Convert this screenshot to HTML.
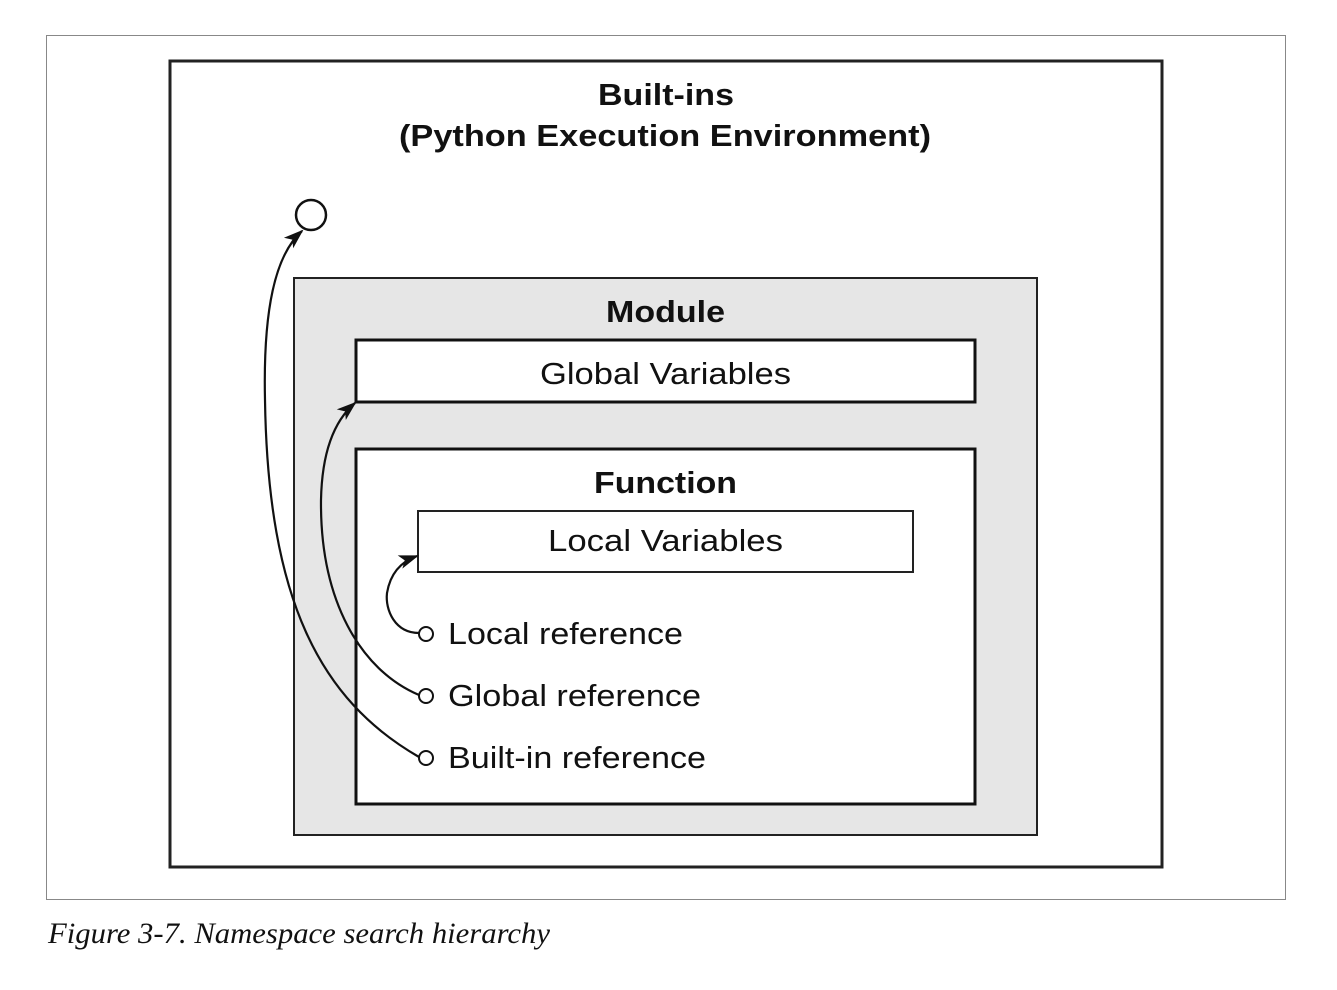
<!DOCTYPE html>
<html><head><meta charset="utf-8"><style>
html,body{margin:0;padding:0;background:#fff;}
svg{display:block;}
.b{font-family:"Liberation Sans",sans-serif;font-weight:bold;font-size:31px;fill:#111;}
.r{font-family:"Liberation Sans",sans-serif;font-size:31px;fill:#111;}
.c{font-family:"Liberation Serif",serif;font-style:italic;font-size:30px;fill:#111;}
</style></head><body>
<svg width="1337" height="990" viewBox="0 0 1337 990" xmlns="http://www.w3.org/2000/svg">
<defs>
<marker id="ah" viewBox="0 0 10 10" refX="9" refY="5" markerWidth="20" markerHeight="20" orient="auto" markerUnits="userSpaceOnUse">
<path d="M0,1.5 L10,5 L0,8.5 L2.5,5 z" fill="#111"/></marker>
</defs>
<rect x="46.5" y="35.5" width="1239" height="864" fill="#fff" stroke="#888" stroke-width="1"/>
<rect x="170" y="61" width="992" height="806" fill="#fff" stroke="#222" stroke-width="3"/>
<text class="b" x="598" y="105" textLength="136" lengthAdjust="spacingAndGlyphs">Built-ins</text>
<text class="b" x="399" y="146" textLength="532" lengthAdjust="spacingAndGlyphs">(Python Execution Environment)</text>
<rect x="294" y="278" width="743" height="557" fill="#e6e6e6" stroke="#222" stroke-width="2"/>
<text class="b" x="606" y="322" textLength="119" lengthAdjust="spacingAndGlyphs">Module</text>
<rect x="356" y="340" width="619" height="62" fill="#fff" stroke="#111" stroke-width="3"/>
<text class="r" x="540" y="384" textLength="251" lengthAdjust="spacingAndGlyphs">Global Variables</text>
<rect x="356" y="449" width="619" height="355" fill="#fff" stroke="#111" stroke-width="3"/>
<text class="b" x="594" y="493" textLength="143" lengthAdjust="spacingAndGlyphs">Function</text>
<rect x="418" y="511" width="495" height="61" fill="#fff" stroke="#222" stroke-width="2"/>
<text class="r" x="548" y="551" textLength="235" lengthAdjust="spacingAndGlyphs">Local Variables</text>
<circle cx="311" cy="215" r="15" fill="#fff" stroke="#111" stroke-width="2.5"/>
<g fill="none" stroke="#111" stroke-width="2.2">
<path d="M419,633 C395,633 385,610 387,593 C390,575 400,562 417,556" marker-end="url(#ah)"/>
<path d="M419,695 C360,670 320,600 321,500 C322,450 335,420 355,403" marker-end="url(#ah)"/>
<path d="M419,757 C320,700 268,600 265,400 C263,310 275,255 302,231" marker-end="url(#ah)"/>
</g>
<g fill="#fff" stroke="#111" stroke-width="2">
<circle cx="426" cy="634" r="7"/><circle cx="426" cy="696" r="7"/><circle cx="426" cy="758" r="7"/>
</g>
<text class="r" x="448" y="644" textLength="235" lengthAdjust="spacingAndGlyphs">Local reference</text>
<text class="r" x="448" y="706" textLength="253" lengthAdjust="spacingAndGlyphs">Global reference</text>
<text class="r" x="448" y="768" textLength="258" lengthAdjust="spacingAndGlyphs">Built-in reference</text>
<text class="c" x="48" y="943" textLength="502" lengthAdjust="spacingAndGlyphs">Figure 3-7. Namespace search hierarchy</text>
</svg>
</body></html>
